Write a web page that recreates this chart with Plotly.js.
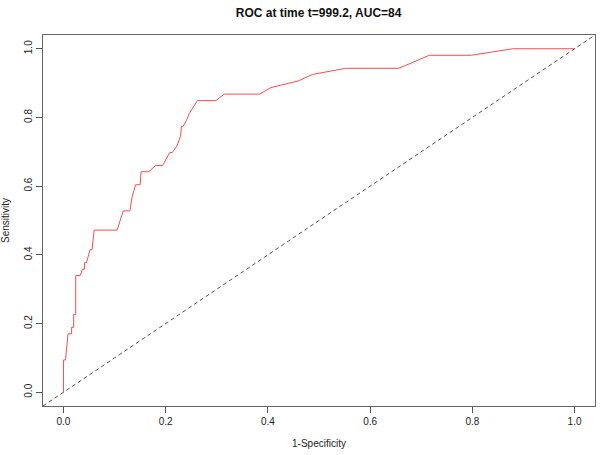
<!DOCTYPE html>
<html>
<head>
<meta charset="utf-8">
<script src="https://cdn.plot.ly/plotly-3.0.1.min.js"></script>
<style>html,body{margin:0;padding:0;background:#fff;}#chart{width:600px;height:455px;}</style>
</head>
<body>
<div id="chart"></div>
<script>
// ROC curve points (1-Specificity, Sensitivity)
var fpr = [0, 0, 0.004, 0.009, 0.016, 0.016, 0.020, 0.020, 0.024, 0.024, 0.033, 0.037, 0.041, 0.041, 0.045, 0.052, 0.056, 0.060, 0.105, 0.117, 0.130, 0.134, 0.141, 0.150, 0.152, 0.167, 0.180, 0.194, 0.208, 0.213, 0.222, 0.229, 0.231, 0.234, 0.241, 0.246, 0.262, 0.298, 0.315, 0.384, 0.406, 0.459, 0.487, 0.552, 0.656, 0.716, 0.798, 0.879, 1.0];
var tpr = [0, 0.094, 0.094, 0.170, 0.170, 0.189, 0.189, 0.226, 0.226, 0.340, 0.340, 0.358, 0.358, 0.377, 0.377, 0.415, 0.415, 0.472, 0.472, 0.528, 0.528, 0.566, 0.604, 0.604, 0.642, 0.642, 0.660, 0.660, 0.698, 0.698, 0.717, 0.745, 0.774, 0.774, 0.792, 0.811, 0.849, 0.849, 0.868, 0.868, 0.887, 0.906, 0.925, 0.943, 0.943, 0.981, 0.981, 1.0, 1.0];
var tickVals = [0, 0.2, 0.4, 0.6, 0.8, 1.0];
var tickText = ["0.0", "0.2", "0.4", "0.6", "0.8", "1.0"];
var axisRange = [-0.04, 1.04];
var chartTitle = "ROC at time t=999.2, AUC=84";

var traces = [{
  x: fpr, y: tpr, type: "scatter", mode: "lines",
  line: {color: "#ff4a4a", width: 1}, hoverinfo: "x+y", showlegend: false
}];

var axisCommon = {
  range: axisRange, tickvals: tickVals, ticktext: tickText,
  ticks: "outside", ticklen: 6, tickcolor: "#555", tickwidth: 1,
  showline: true, mirror: true, linecolor: "#666", linewidth: 1,
  showgrid: false, zeroline: false,
  tickfont: {family: "Liberation Sans, Arial, sans-serif", size: 10, color: "#222"}
};

var layout = {
  width: 600, height: 455,
  margin: {l: 43, r: 5, t: 35, b: 49},
  paper_bgcolor: "#fff", plot_bgcolor: "#fff",
  showlegend: false,
  title: {text: "<b>" + chartTitle + "</b>", x: 0.531, xanchor: "center", y: 0.971, yanchor: "middle",
          font: {family: "Liberation Sans, Arial, sans-serif", size: 12, color: "#111"}},
  xaxis: Object.assign({}, axisCommon, {
    title: {text: "1-Specificity", standoff: 13,
            font: {family: "Liberation Sans, Arial, sans-serif", size: 10, color: "#222"}}
  }),
  yaxis: Object.assign({}, axisCommon, {
    tickangle: -90,
    title: {text: "Sensitivity", standoff: 11,
            font: {family: "Liberation Sans, Arial, sans-serif", size: 10, color: "#222"}}
  }),
  shapes: [{
    type: "line", xref: "x", yref: "y",
    x0: axisRange[0], y0: axisRange[0], x1: axisRange[1], y1: axisRange[1],
    line: {color: "#555", width: 1, dash: "4px,3px"}
  }]
};

Plotly.newPlot("chart", traces, layout, {displayModeBar: false, responsive: false});
</script>
</body>
</html>
